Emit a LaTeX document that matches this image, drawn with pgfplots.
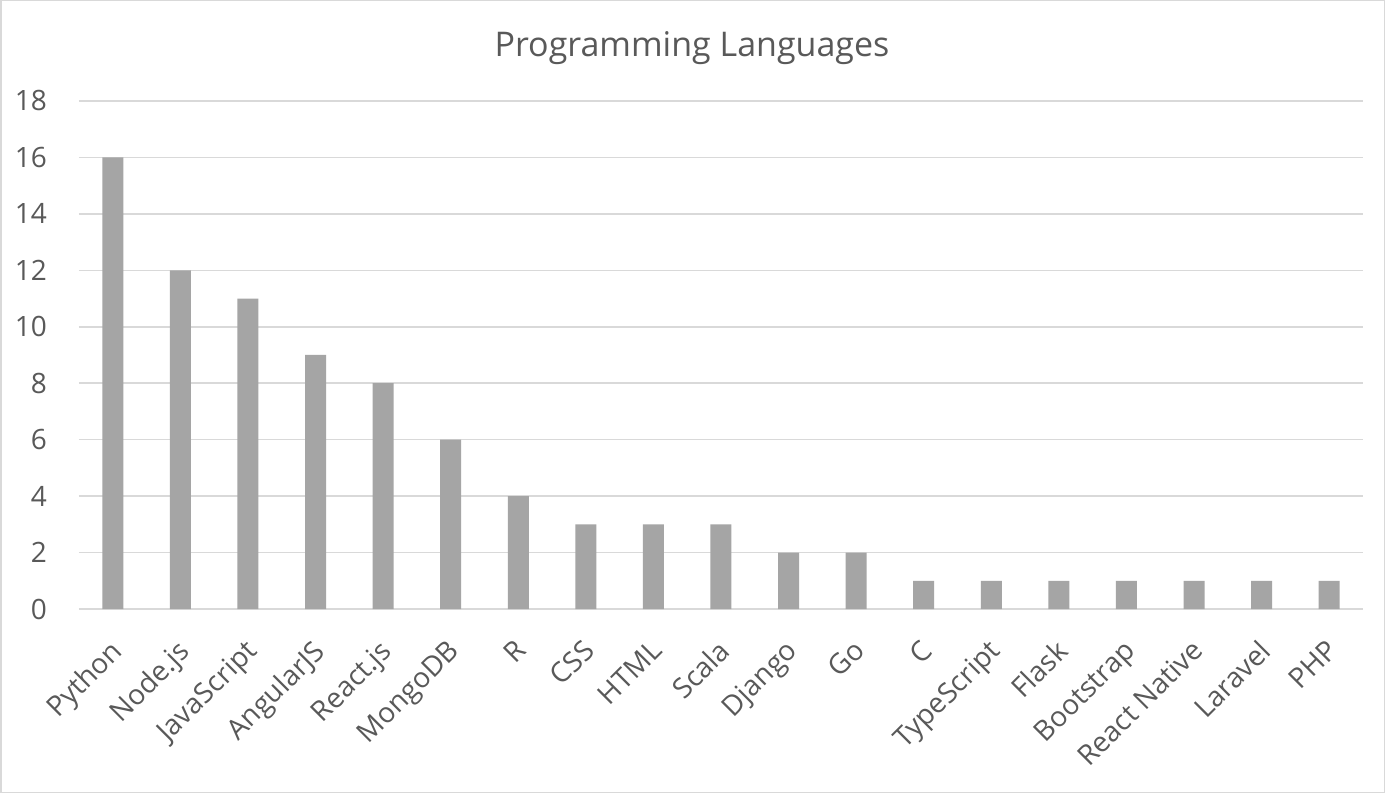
\documentclass[border=0pt]{standalone}
\usepackage{pgfplots}
\pgfplotsset{compat=1.18}
\usepackage{fontspec}
\setmainfont{Open Sans}
\definecolor{bargray}{HTML}{A5A5A5}
\definecolor{txtgray}{HTML}{595959}
\definecolor{gridgray}{HTML}{D9D9D9}
\begin{document}
\begin{tikzpicture}[x=1pt,y=1pt]
\useasboundingbox (0,0) rectangle (1385,793);
\fill[white] (0,0) rectangle (1385,793);
\draw[gridgray, line width=1.5pt] (0.75,0.75) rectangle (1384.25,792.25);
\node[text=txtgray, font=\fontsize{34}{40}\selectfont] at (692,745) {Programming Languages};
\begin{axis}[
  at={(79pt,184pt)}, anchor=south west,
  scale only axis, width=1284pt, height=508pt,
  xmin=-0.5, xmax=18.5, ymin=0, ymax=18,
  ytick={0,2,...,18},
  xtick=data,
  xticklabels={Python,Node.js,JavaScript,AngularJS,React.js,MongoDB,R,CSS,HTML,Scala,Django,Go,C,TypeScript,Flask,Bootstrap,React Native,Laravel,PHP},
  ybar, bar width=21pt,
  ymajorgrids, grid style={gridgray, line width=1.5pt},
  axis line style={draw=none},
  major tick length=0pt,
  /pgf/number format/assume math mode=true,
  ticklabel style={text=txtgray, font=\fontsize{28}{32}\selectfont},
  yticklabel style={anchor=east, inner sep=0pt, xshift=-32pt},
  xticklabel style={rotate=45, anchor=north east, inner sep=0pt, xshift=-23.5pt, yshift=-17.5pt},
]
\addplot[fill=bargray, draw=none] coordinates {
(0,16) (1,12) (2,11) (3,9) (4,8) (5,6) (6,4) (7,3) (8,3) (9,3)
(10,2) (11,2) (12,1) (13,1) (14,1) (15,1) (16,1) (17,1) (18,1)};
\end{axis}
\end{tikzpicture}
\end{document}
